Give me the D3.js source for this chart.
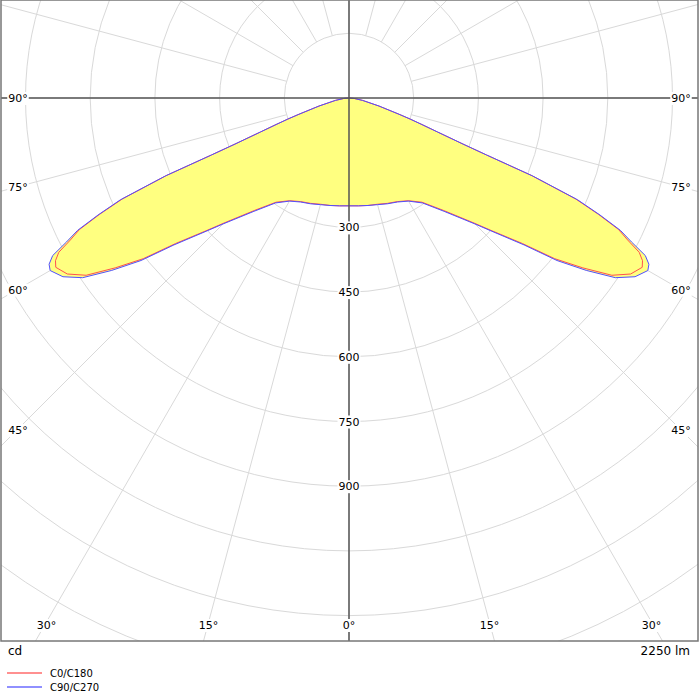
<!DOCTYPE html>
<html><head><meta charset="utf-8">
<script src="https://cdn.jsdelivr.net/npm/d3@7"></script>
<style>body{margin:0;background:#fff}text{font-family:"DejaVu Sans",sans-serif;font-size:11px}</style>
</head><body><svg id="c" width="700" height="700"></svg>
<script>
const angles = [0,5,10,15,20,25,30,35,40,45,47,50,52,54,56,58,60,61,62,63,64,65,66,67,67.5,68,69,70,71,72,75,80,85,90];
const c0 =     [250,251,253,255,260,265,275,295,340,410,450,525,605,670,735,770,785,778,762,725,695,638,575,460,345,285,220,180,150,122,72,32,12,0];
const c90 =    [250,251,253,256,261,266,276,297,343,413,453,530,612,680,745,782,800,795,778,735,700,642,580,462,345,285,220,180,150,122,72,32,12,0];
const rings = [150,300,450,600,750,900,1050,1200,1350,1500];
const ringLabels = [300,450,600,750,900];
const angleLabelsBottom = [{a:0,t:"0°"},{a:15,t:"15°"},{a:30,t:"30°"}];
const angleLabelsSide = [45,60,75,90];

const svg = d3.select("#c");
const cx = 349, cy = 98, W = 698, H = 641;
const r = d3.scaleLinear().domain([0,150]).range([0,64.7]);
const clip = svg.append("clipPath").attr("id","cl").append("rect").attr("x",1).attr("y",0).attr("width",W-1).attr("height",H);
const g = svg.append("g").attr("clip-path","url(#cl)");
// rings
g.selectAll("circle.r").data(rings).join("circle").attr("cx",cx).attr("cy",cy).attr("r",d=>r(d))
 .attr("fill","none").attr("stroke","#d9d9d9");
// radial lines
const spokes = d3.range(0,360,15);
g.selectAll("line.s").data(spokes).join("line")
 .attr("x1",d=>cx+r(150)*Math.sin(d*Math.PI/180)).attr("y1",d=>cy+r(150)*Math.cos(d*Math.PI/180))
 .attr("x2",d=>cx+2000*Math.sin(d*Math.PI/180)).attr("y2",d=>cy+2000*Math.cos(d*Math.PI/180))
 .attr("stroke","#d9d9d9");
// curves
function pts(vals){
  const right = angles.map((a,i)=>[cx+r(vals[i])*Math.sin(a*Math.PI/180), cy+r(vals[i])*Math.cos(a*Math.PI/180)]);
  const left = angles.map((a,i)=>[cx-r(vals[i])*Math.sin(a*Math.PI/180), cy+r(vals[i])*Math.cos(a*Math.PI/180)]).reverse();
  return left.concat(right);
}
const line = d3.line();
g.append("path").attr("d",line(pts(c90))+"Z").attr("fill","#ffff80");
g.append("path").attr("d",line(pts(c0))+"Z").attr("fill","none").attr("stroke","#ff5050").attr("stroke-width",1);
g.append("path").attr("d",line(pts(c90))+"Z").attr("fill","none").attr("stroke","#5050ff").attr("stroke-width",1);
// axes
g.append("line").attr("x1",cx).attr("x2",cx).attr("y1",0).attr("y2",H).attr("stroke","#555").attr("stroke-width",1.5);
g.append("line").attr("x1",0).attr("x2",W).attr("y1",cy).attr("y2",cy).attr("stroke","#555").attr("stroke-width",1.5);
// ring labels
ringLabels.forEach(v=>{
  const t = svg.append("text").attr("x",cx).attr("y",cy+r(v)+4).attr("text-anchor","middle").text(v);
  const b = t.node().getBBox();
  svg.insert("rect","text:last-of-type").attr("x",b.x-1).attr("y",b.y).attr("width",b.width+2).attr("height",b.height).attr("fill","#fff");
});
// angle labels
function lab(x,y,t,anchor){
  const tx = svg.append("text").attr("x",x).attr("y",y).attr("text-anchor",anchor).text(t);
  const b = tx.node().getBBox();
  svg.insert("rect","text:last-of-type").attr("x",b.x-1).attr("y",b.y).attr("width",b.width+2).attr("height",b.height).attr("fill","#fff");
}
const yb = 629;
angleLabelsBottom.forEach(d=>{
  const dx = (622-cy)*Math.tan(d.a*Math.PI/180);
  lab(cx+dx,yb,d.t,"middle"); if(d.a) lab(cx-dx,yb,d.t,"middle");
});
angleLabelsSide.forEach(a=>{
  const dy = a===90?0:(cx-17)/Math.tan(a*Math.PI/180);
  lab(18,cy+dy+4,a+"°","middle"); lab(681,cy+dy+4,a+"°","middle");
});
svg.append("rect").attr("x",1).attr("y",0).attr("width",W-1).attr("height",H).attr("fill","none").attr("stroke","#777").attr("stroke-width",1.5);
svg.append("text").attr("x",8).attr("y",655).style("font-size","12px").text("cd");
svg.append("text").attr("x",690).attr("y",655).attr("text-anchor","end").style("font-size","12px").text("2250 lm");
[["C0/C180","#ff9090"],["C90/C270","#9090ff"]].forEach((d,i)=>{
  svg.append("line").attr("x1",7).attr("x2",42).attr("y1",673+i*14).attr("y2",673+i*14).attr("stroke",d[1]).attr("stroke-width",2);
  svg.append("text").attr("x",50).attr("y",677+i*14).style("font-size","10px").text(d[0]);
});
</script></body></html>
